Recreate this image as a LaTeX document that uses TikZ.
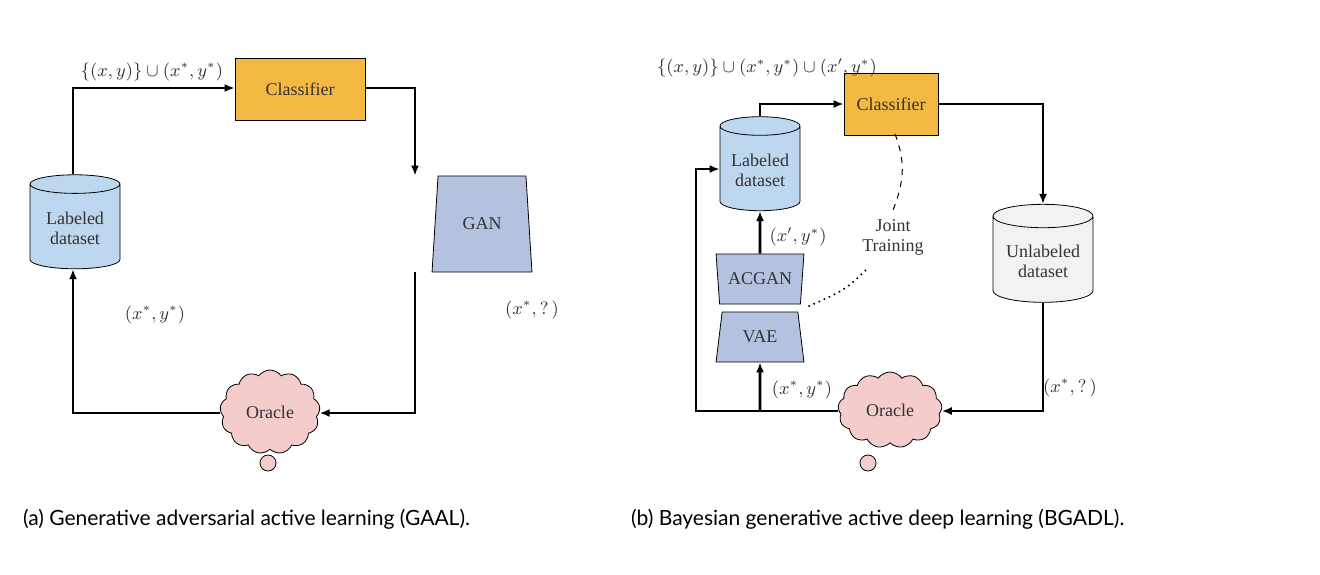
\documentclass[tikz,border=0pt]{standalone}
\usepackage{fontspec}
\setmainfont{Liberation Serif}
\newfontfamily\capfont{Lato}
\usetikzlibrary{shapes.geometric,shapes.symbols,arrows.meta}
\definecolor{clsfill}{HTML}{F4B942}
\definecolor{dbfill}{HTML}{BDD7EE}
\definecolor{ganfill}{HTML}{B4C2E0}
\definecolor{orfill}{HTML}{F4CCCC}
\definecolor{unfill}{HTML}{F2F2F2}
\definecolor{txt}{HTML}{333333}
\begin{document}
\begin{tikzpicture}[x=0.5pt,y=-0.5pt,
  every node/.style={text=txt,font=\fontsize{9}{10}\selectfont},
  line/.style={line width=1.3pt,-{Latex[length=5pt,width=4pt]}},
  cls/.style={draw,fill=clsfill,minimum width=65pt,minimum height=31pt},
  db/.style={cylinder,shape border rotate=90,draw,aspect=0.3,minimum width=45pt,minimum height=47pt,align=center,inner sep=1pt},
  trap/.style={trapezium,draw,fill=ganfill,trapezium stretches=true},
  cl/.style={cloud,cloud puffs=13,cloud puff arc=110,draw,fill=orfill,aspect=1.3,minimum width=50pt,minimum height=42pt,inner sep=0pt},
  captxt/.style={font=\capfont\fontsize{10.5}{13}\selectfont,text=black,anchor=north west,align=justify}]
\useasboundingbox (0,0) rectangle (1320,574);
% ---------- (a)
\node[cls] (c1) at (300,89) {Classifier};
\node[db,fill=dbfill] (d1) at (75,228) {Labeled\\dataset};
\node[trap,minimum width=50pt,minimum height=48pt,trapezium left angle=82,trapezium right angle=82] (g1) at (482,224) {GAN};
\node[cl] (o1) at (270,412) {Oracle};
\draw[fill=orfill] (268,463) circle (4pt);
\coordinate (a1) at (73,88); \coordinate (a2) at (415,88);
\coordinate (a3) at (415,413); \coordinate (a4) at (73,413);
\draw[line] (d1.top -| a1) -- (a1) -- (c1.west |- a1);
\draw[line] (c1.east |- a2) -- (a2) -- (g1.north -| a2);
\draw[line] (g1.south -| a3) -- (a3) -- (o1.east |- a3);
\draw[line] (o1.west |- a4) -- (a4) -- (d1.bottom -| a4);
\node at (152,72) {$\{(x,y)\}\cup(x^{*},y^{*})$};
\node at (155,315) {$(x^{*},y^{*})$};
\node at (532,310) {$(x^{*},?\,)$};
% ---------- (b)
\node[cls,minimum width=47pt] (c2) at (891,104) {Classifier};
\node[db,fill=dbfill,minimum width=40pt] (d2) at (760,170) {Labeled\\dataset};
\node[db,fill=unfill,minimum width=50pt,minimum height=49pt] (u2) at (1043,261) {Unlabeled\\dataset};
\node[trap,minimum width=44pt,minimum height=25pt,trapezium left angle=77,trapezium right angle=77,inner sep=0pt] (v2) at (760,337) {VAE};
\node[trap,minimum width=44pt,minimum height=25pt,trapezium left angle=77,trapezium right angle=77,shape border rotate=180,inner sep=0pt] (ac2) at (760,279) {ACGAN};
\node[cl,minimum width=52pt,minimum height=38pt] (o2) at (890,410) {Oracle};
\draw[fill=orfill] (868,463) circle (4pt);
\coordinate (b1) at (760,104); \coordinate (b2) at (1043,104);
\coordinate (b3) at (1043,411); \coordinate (b4) at (696,411);
\coordinate (b5) at (696,169); \coordinate (b6) at (760,411);
\coordinate (jd) at (895,134);
\draw[line] (d2.top) -- (b1) -- (c2.west |- b1);
\draw[line] (c2.east |- b2) -- (b2) -- (u2.top);
\draw[line] (u2.bottom) -- (b3) -- (o2.east |- b3);
\draw[line] (o2.west |- b4) -- (b4) -- (b5) -- (d2.west |- b5);
\draw[line] (b6) -- (v2.south);
\draw[line] (ac2.north) -- (d2.bottom);
\node (jt) at (893,237) {\begin{tabular}{c}Joint\\Training\end{tabular}};
\draw[dashed,line width=0.5pt] (jd) .. controls (905,160) and (905,180) .. (jt.north);
\coordinate (jo) at (866,270); \coordinate (je) at (807,307);
\draw[dotted,line width=0.8pt] (jo) .. controls (845,290) .. (je);
\node at (767,68) {$\{(x,y)\}\cup(x^{*},y^{*})\cup(x',y^{*})$};
\node at (798,237) {$(x',y^{*})$};
\node at (802,390) {$(x^{*},y^{*})$};
\node at (1070,388) {$(x^{*},?\,)$};
% captions
\node[captxt,text width=288pt] (ca) at (16,502) {(a) Generative adversarial active learning (GAAL).};
\node[captxt] (cb) at (624,502) {(b) Bayesian generative active deep learning (BGADL).};
\end{tikzpicture}
\end{document}
